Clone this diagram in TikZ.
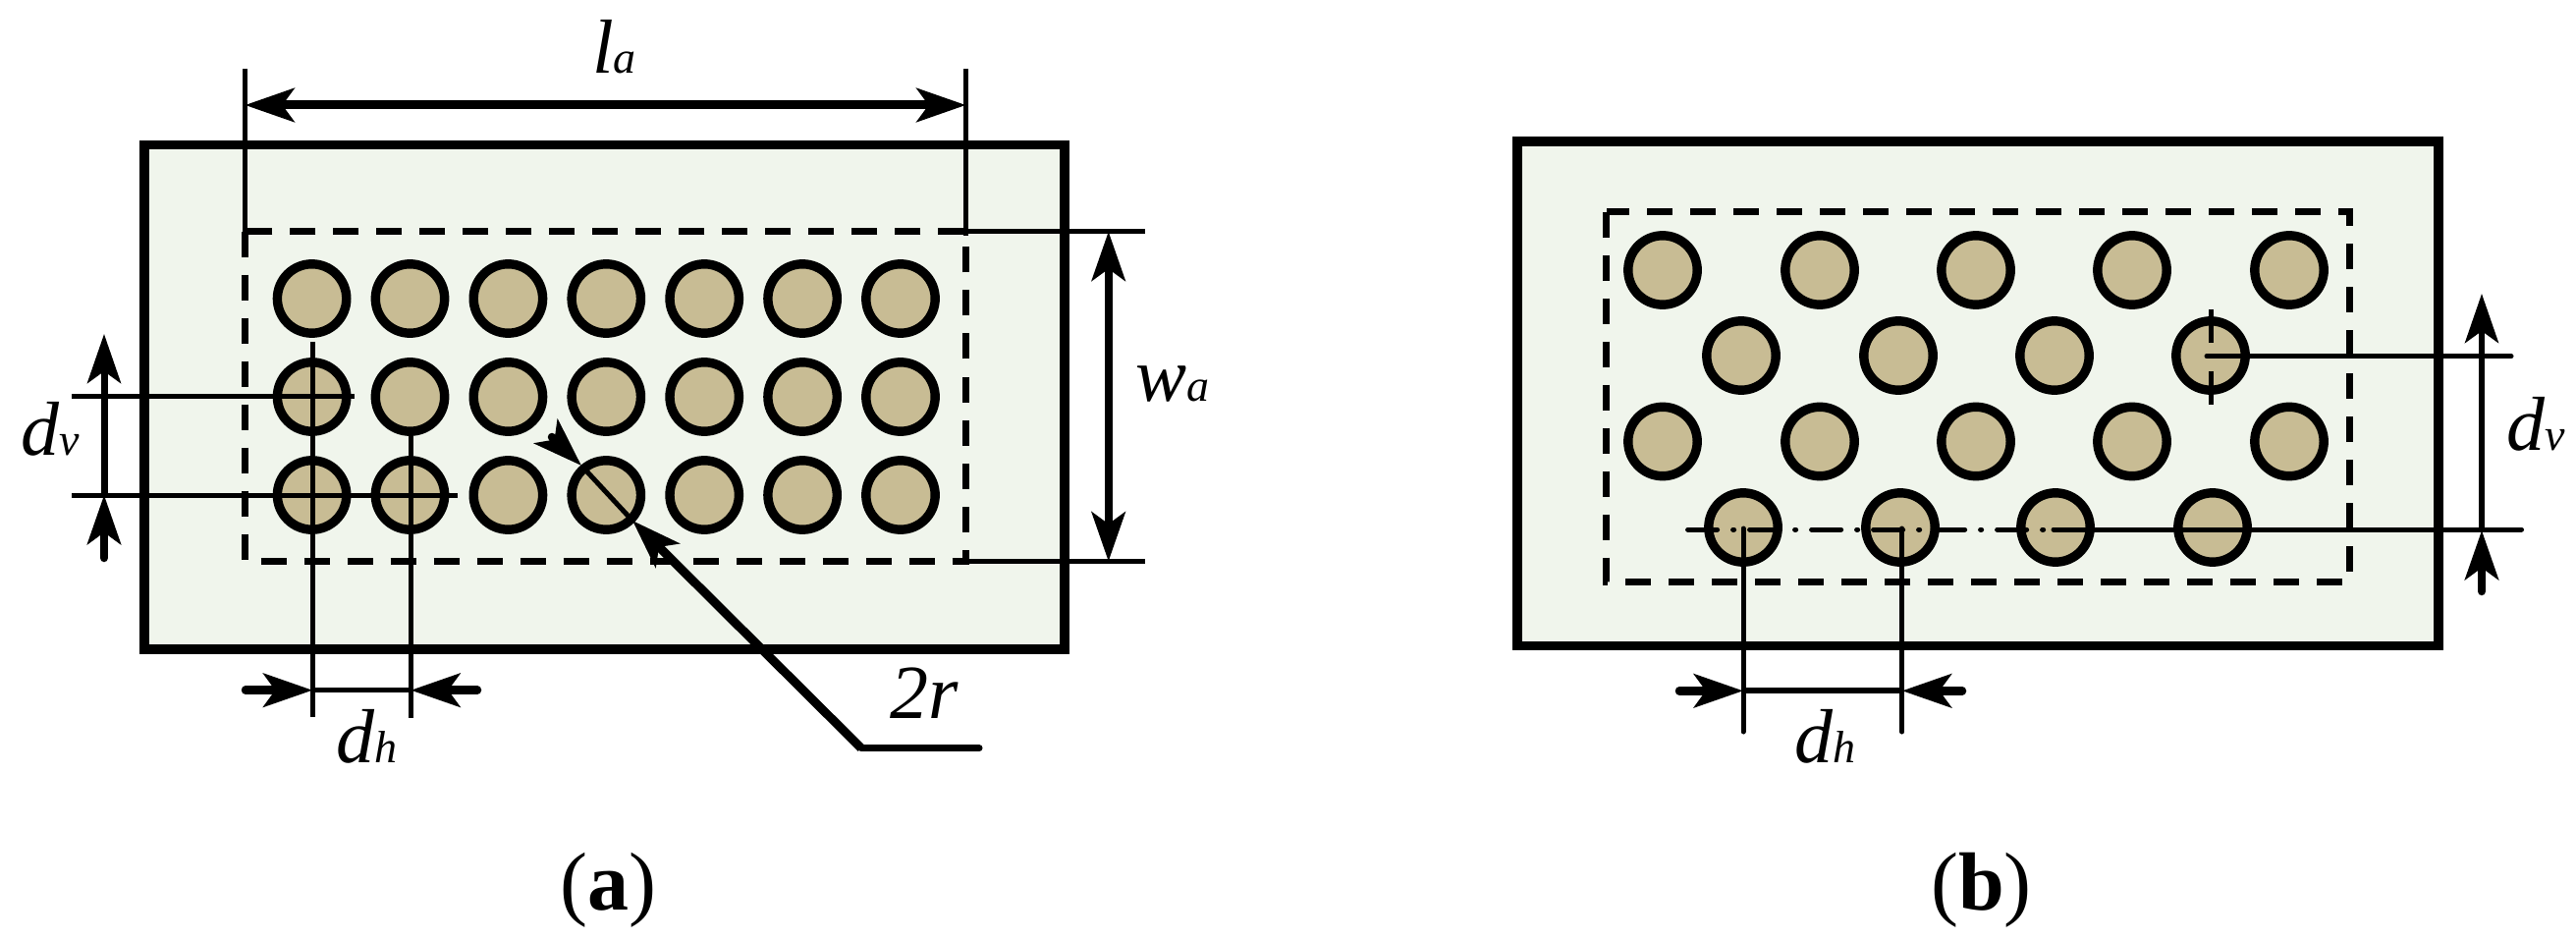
\documentclass[tikz,border=0pt]{standalone}
\usepackage{fontspec}
\setmainfont{Liberation Serif}
\usetikzlibrary{arrows.meta}
\definecolor{platefill}{HTML}{F0F5EC}
\definecolor{holefill}{HTML}{C8BC94}
\newcommand{\dimtext}[2]{#1{\fontsize{46}{46}\selectfont #2}}
\begin{document}
\begin{tikzpicture}[x=1pt,y=-1pt,>={Stealth[length=50pt,width=34pt,inset=12pt]}]

\tikzstyle{plate}=[draw,line width=9.5pt,fill=platefill]
\tikzstyle{zone}=[draw,line width=7pt,dash pattern=on 26pt off 18pt]
\tikzstyle{hole}=[circle,draw,line width=9.4pt,fill=holefill,inner sep=0pt,minimum size=70.4pt]
\tikzstyle{thinline}=[draw,line width=5pt]
\tikzstyle{shaft}=[draw,line width=8.5pt,line cap=round]
\tikzstyle{dimlabel}=[inner sep=0pt,anchor=base west,font=\fontsize{78}{78}\selectfont\itshape]
\tikzstyle{caption}=[inner sep=0pt,anchor=base,font=\fontsize{84}{84}\selectfont]

\useasboundingbox (0,0) rectangle (2623,957);

\draw[plate] (147,147.5) rectangle (1084,661);
\draw[zone] (249.4,235.7) -- (249.4,571.5) -- (983.6,571.5) -- (983.6,235.7) -- cycle;
\foreach \r/\y in {1/304,2/404,3/504}
  \foreach \c in {1,...,7}
    \node[hole] (a\r\c) at ({317.6+99.9*(\c-1)},\y) {};

\coordinate (laleft) at (249.4,70);
\coordinate (laright) at (983.6,70);
\coordinate (zoneleft) at (249.4,240);
\coordinate (zoneright) at (983.6,240);
\coordinate (latipl) at (249.4,107);
\coordinate (latipr) at (983.6,107);
\draw[thinline] (laleft) -- (zoneleft);
\draw[thinline] (laright) -- (zoneright);
\draw[line width=9pt,<->] (latipl) -- (latipr);

\coordinate (wtop) at (983.6,235.7);
\coordinate (wbot) at (983.6,571.5);
\coordinate (wtopend) at (1166,235.7);
\coordinate (wbotend) at (1166,571.5);
\coordinate (wtipt) at (1128.7,235.7);
\coordinate (wtipb) at (1128.7,571.5);
\draw[thinline] (wtop) -- (wtopend);
\draw[thinline] (wbot) -- (wbotend);
\draw[line width=8.4pt,<->] (wtipt) -- (wtipb);

\coordinate (dvaone) at (73,403.5);
\coordinate (dvatwo) at (73,504);
\coordinate (dvaoneend) at (361,403.5);
\coordinate (dvatwoend) at (465.7,504);
\draw[thinline] (dvaone) -- (dvaoneend);
\draw[thinline] (dvatwo) -- (dvatwoend);
\coordinate (dvatop) at (106,340);
\coordinate (dvamid) at (106,504);
\coordinate (dvatail) at (106,568);
\draw[line width=7pt,->] (dvamid) -- (dvatop);
\draw[shaft,->] (dvatail) -- (dvamid);

\coordinate (dhatop) at (318.3,348);
\coordinate (dhaend) at (318.3,730);
\coordinate (dhbtop) at (418.3,443);
\coordinate (dhbend) at (418.3,731);
\draw[thinline] (dhatop) -- (dhaend);
\draw[thinline] (dhbtop) -- (dhbend);
\coordinate (dhatip) at (318.3,702.7);
\coordinate (dhbtip) at (418.3,702.7);
\coordinate (dhatail) at (250,702.7);
\coordinate (dhbtail) at (486,702.7);
\draw[shaft,->] (dhatail) -- (dhatip);
\draw[shaft,->] (dhbtail) -- (dhbtip);
\draw[thinline] (dhatip) -- (dhbtip);

\coordinate (rtipa) at (592,474);
\coordinate (rtailb) at (562,445);
\coordinate (rtipb) at (644,530);
\coordinate (rbend) at (877,761.7);
\coordinate (rend) at (997,761.7);
\draw[shaft,->] (rtailb) -- (rtipa);
\draw[thinline] (rtipa) -- (rtipb);
\draw[line width=9pt,->] (rbend) -- (rtipb);
\draw[line width=7pt,line cap=round] (rbend) -- (rend);

\node[dimlabel] (la) at (603,74.5) {\dimtext{l}{a}};
\node[dimlabel] (wa) at (1156,408) {\dimtext{w}{a}};
\node[dimlabel] (dva) at (21,463) {\dimtext{d}{v}};
\node[dimlabel] (dha) at (342,776) {\dimtext{d}{h}};
\node[dimlabel] (tworad) at (906,731) {2r};
\node[caption] (capa) at (619,926.7) {(\textbf{a})};

\draw[plate] (1545,144) rectangle (2483,657.5);
\draw[zone] (1635.5,215.7) -- (1635.5,592.3) -- (2392.6,592.3) -- (2392.6,215.7) -- cycle;
\foreach \n/\x in {1/1693,2/1853,3/2012,4/2171,5/2331} {
  \node[hole] (bt\n) at (\x,275) {};
  \node[hole] (bm\n) at (\x,449.5) {};
}
\foreach \n/\x in {1/1773,2/1933,3/2092,4/2251}
  \node[hole] (bu\n) at (\x,362) {};
\foreach \n/\x in {1/1775,2/1935,3/2093,4/2253}
  \node[hole] (bl\n) at (\x,537) {};

\coordinate (dvbone) at (2247,362.7);
\coordinate (dvboneend) at (2557,362.7);
\draw[thinline,line cap=round] (dvbone) -- (dvboneend);
\coordinate (crossa) at (2251.4,315);
\coordinate (crossb) at (2251.4,349);
\coordinate (crossc) at (2251.4,378);
\coordinate (crossd) at (2251.4,411.7);
\draw[thinline] (crossa) -- (crossb);
\draw[thinline] (crossc) -- (crossd);

\coordinate (axisstart) at (1718.6,539);
\coordinate (axismid) at (2091,539);
\coordinate (axisend) at (2567.5,539);
\draw[thinline,line cap=round,dash pattern=on 30pt off 16pt on 1pt off 16pt] (axisstart) -- (axismid);
\draw[thinline,line cap=round] (axismid) -- (axisend);

\coordinate (dvbtop) at (2527,299);
\coordinate (dvbmid) at (2527,540);
\coordinate (dvbtail) at (2527,602);
\draw[line width=6.5pt,->] (dvbmid) -- (dvbtop);
\draw[shaft,->] (dvbtail) -- (dvbmid);

\coordinate (dhcend) at (1775,745);
\coordinate (dhcstart) at (1775,538);
\coordinate (dhdend) at (1936.8,745);
\coordinate (dhdstart) at (1936.8,538);
\draw[thinline,line cap=round] (dhcstart) -- (dhcend);
\draw[thinline,line cap=round] (dhdstart) -- (dhdend);
\coordinate (dhctip) at (1775,703.3);
\coordinate (dhdtip) at (1936.8,703.3);
\coordinate (dhctail) at (1710,703.3);
\coordinate (dhdtail) at (1998,703.3);
\draw[shaft,->] (dhctail) -- (dhctip);
\draw[shaft,->] (dhdtail) -- (dhdtip);
\draw[line width=6pt] (dhctip) -- (dhdtip);

\node[dimlabel] (dvb) at (2552,458) {\dimtext{d}{v}};
\node[dimlabel] (dhb) at (1827.7,776.7) {\dimtext{d}{h}};
\node[caption] (capb) at (2017.5,926.7) {(\textbf{b})};
\end{tikzpicture}
\end{document}
